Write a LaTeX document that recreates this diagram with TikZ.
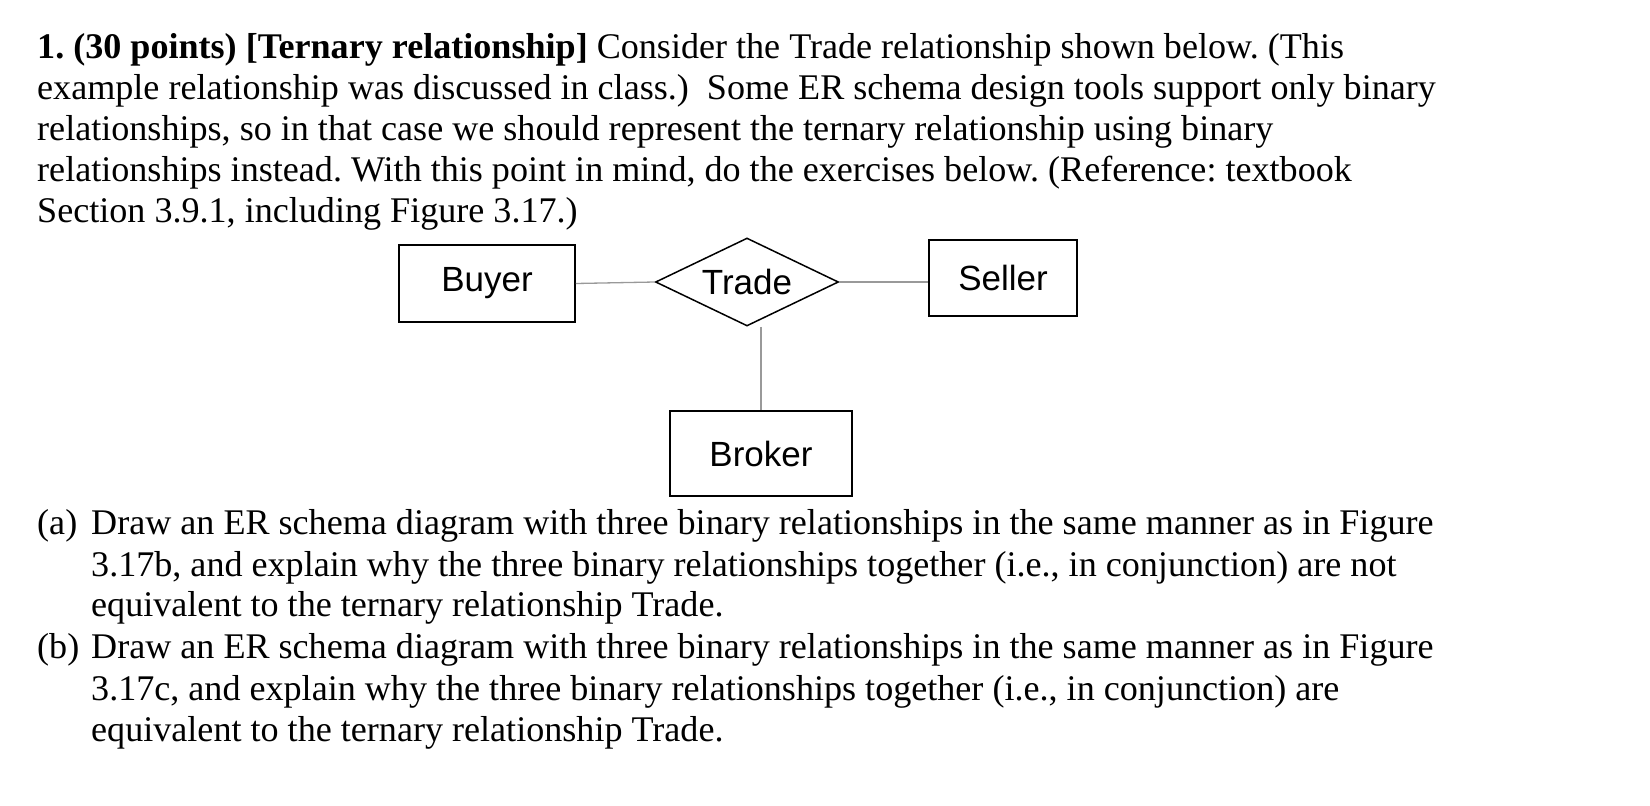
\documentclass[tikz,border=0pt]{standalone}
\usepackage{fontspec}
\setmainfont{Liberation Serif}
\newfontfamily\diasf{Liberation Sans}
\usetikzlibrary{shapes.geometric}
\frenchspacing
\begin{document}
\begin{tikzpicture}[x=1pt,y=-1pt,
  txt/.style={anchor=west,inner sep=0pt,font=\fontsize{36.1}{40}\selectfont},
  ent/.style={draw,line width=1.5pt,inner sep=0pt,font=\diasf\fontsize{35}{40}\selectfont},
  conn/.style={draw=gray!80,line width=1.3pt}]
\useasboundingbox (0,0) rectangle (1650,806);
\node[txt] (l1) at (37,50) {\textbf{1. (30 points) [Ternary relationship]} Consider the Trade relationship shown below. (This};
\node[txt] (l2) at (37,91) {example relationship was discussed in class.)\ \ Some ER schema design tools support only binary};
\node[txt] (l3) at (37,132) {relationships, so in that case we should represent the ternary relationship using binary};
\node[txt] (l4) at (37,173) {relationships instead. With this point in mind, do the exercises below. (Reference: textbook};
\node[txt] (l5) at (37,214) {Section 3.9.1, including Figure 3.17.)};

\node[ent,minimum width=176pt,minimum height=77pt] (buyer) at (487,283.5) {Buyer};
\node[ent,minimum width=148pt,minimum height=76pt] (seller) at (1003,278) {Seller};
\node[ent,minimum width=182pt,minimum height=85pt] (broker) at (761,453.5) {Broker};
\node[ent,diamond,minimum width=183pt,minimum height=88pt,aspect=2.08] (trade) at (747,282) {Trade};
\draw[conn] (buyer.east) -- (trade.west);
\draw[conn] (trade.east) -- (seller.west |- trade.east);
\draw[conn] (trade.south -| broker.north) -- (broker.north);

\node[txt] (a) at (37,526) {(a)};
\node[txt] (a1) at (91,526) {Draw an ER schema diagram with three binary relationships in the same manner as in Figure};
\node[txt] (a2) at (91,568) {3.17b, and explain why the three binary relationships together (i.e., in conjunction) are not};
\node[txt] (a3) at (91,608) {equivalent to the ternary relationship Trade.};
\node[txt] (b) at (37,650) {(b)};
\node[txt] (b1) at (91,650) {Draw an ER schema diagram with three binary relationships in the same manner as in Figure};
\node[txt] (b2) at (91,692) {3.17c, and explain why the three binary relationships together (i.e., in conjunction) are};
\node[txt] (b3) at (91,733) {equivalent to the ternary relationship Trade.};
\end{tikzpicture}
\end{document}
